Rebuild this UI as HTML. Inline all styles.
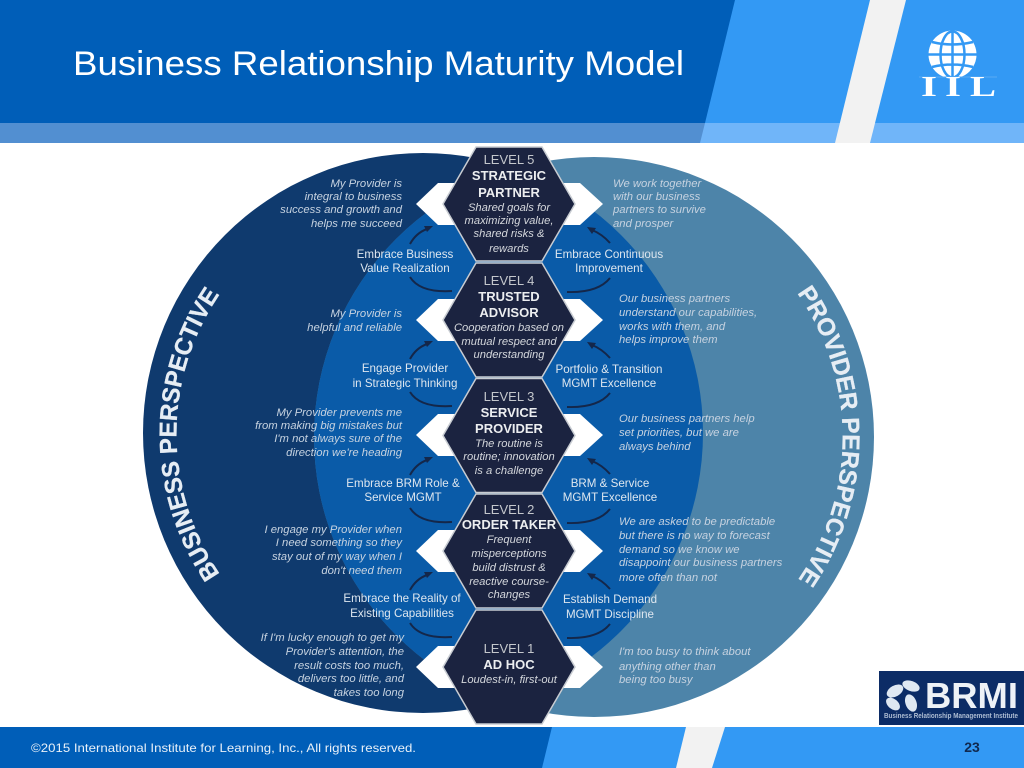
<!DOCTYPE html>
<html lang="en"><head><meta charset="utf-8"><title>Business Relationship Maturity Model</title>
<style>
html,body{margin:0;padding:0;background:#fff;width:1024px;height:768px;overflow:hidden}
svg{display:block}
text{font-family:"Liberation Sans",sans-serif}
.t{font-style:italic;font-size:11.3px;fill:#c6d2e0}
.l{text-anchor:end}
.lab{font-size:11.6px;fill:#dde6ef;text-anchor:middle}
.h{font-size:13px;text-anchor:middle;fill:#c4c7cc}
.b{font-size:13px;font-weight:bold;text-anchor:middle;fill:#eceef0}
.i{font-size:11.2px;font-style:italic;text-anchor:middle;fill:#d4d7dc}
</style></head><body>
<svg width="1024" height="768" viewBox="0 0 1024 768" xmlns="http://www.w3.org/2000/svg">
<defs>
<clipPath id="lc"><circle cx="423" cy="433" r="280"/></clipPath>
<filter id="soft" x="-5%" y="-5%" width="110%" height="110%"><feGaussianBlur stdDeviation="0.3"/></filter>
<polygon id="hex" points="443,0 476,-57 542,-57 575,0 542,57 476,57" fill="#1b2340" stroke="#c8ccd2" stroke-width="1.500"/>
<polygon id="wh" points="416,0 438,-21 580,-21 603,0 580,21 438,21" fill="#fff"/>
<g id="arcs" fill="none" stroke="#14274a" stroke-width="2">
<path d="M410 244Q416 233 427 229"/><path d="M410 277Q420 293 452 291"/>
<path d="M610 243Q602 234 592 230"/><path d="M610 278Q598 293 567 292"/>
<polygon points="433,226 424,226 427,232" fill="#14274a" stroke="none"/>
<polygon points="587,227 596,228 592,234" fill="#14274a" stroke="none"/>
</g>
<path id="pl" d="M220 574A247 247 0 0 1 220 294"/>
<path id="pr" d="M797 293A250 250 0 0 1 797 581"/>
</defs>

<!-- header -->
<rect x="0" y="0" width="1024" height="123" fill="#3399f4"/>
<polygon points="0,0 735,0 705,123 0,123" fill="#005eb8"/>
<rect x="0" y="123" width="1024" height="20" fill="#70b5f9"/>
<polygon points="0,123 705,123 700,143 0,143" fill="#528fd1"/>
<polygon points="870,0 906,0 870,143 835,143" fill="#f2f2f2"/>
<text x="73" y="75" font-size="34" fill="#fff" textLength="611" lengthAdjust="spacingAndGlyphs">Business Relationship Maturity Model</text>

<!-- logo -->
<g>
<circle cx="952.5" cy="54.5" r="24" fill="#fff"/>
<g fill="none" stroke="#3399f4" stroke-width="2.500">
<ellipse cx="952.5" cy="54.5" rx="12" ry="23"/>
<path d="M952.5 30V79M928 54.5H977M932 42Q952 47 973 42M932 67Q952 62 973 67"/>
</g>
<rect x="919" y="76.500" width="78" height="1" fill="#5aaaf5"/>
<g font-size="29" font-weight="bold" fill="#fff">
<text x="921" y="96" textLength="16" lengthAdjust="spacingAndGlyphs" style="font-family:'Liberation Serif',serif">I</text>
<text x="945" y="96" textLength="16" lengthAdjust="spacingAndGlyphs" style="font-family:'Liberation Serif',serif">I</text>
<text x="970" y="96" textLength="26" lengthAdjust="spacingAndGlyphs" style="font-family:'Liberation Serif',serif">L</text>
</g>
</g>

<!-- circles -->
<circle cx="423" cy="433" r="280" fill="#0f3a6e"/>
<circle cx="594" cy="437" r="280" fill="#4d84a9"/>
<circle cx="594" cy="437" r="280" fill="#0a5ba8" clip-path="url(#lc)"/>

<!-- white tabs -->
<use href="#wh" y="204"/><use href="#wh" y="320"/><use href="#wh" y="435"/><use href="#wh" y="551"/><use href="#wh" y="667"/>

<!-- hexagons -->
<use href="#hex" y="204"/><use href="#hex" y="320"/><use href="#hex" y="435.500"/><use href="#hex" y="551"/><use href="#hex" y="667"/>

<use href="#arcs"/><use href="#arcs" y="115"/><use href="#arcs" y="231"/><use href="#arcs" y="346"/>

<g filter="url(#soft)">
<!-- curved titles -->
<text font-size="24.500" font-weight="bold" fill="#e6edf4" stroke="#e6edf4" stroke-width="0.300"><textPath href="#pl" textLength="297" lengthAdjust="spacingAndGlyphs">BUSINESS PERSPECTIVE</textPath></text>
<text font-size="24.500" font-weight="bold" fill="#e6edf4" stroke="#e6edf4" stroke-width="0.300"><textPath href="#pr" textLength="305" lengthAdjust="spacingAndGlyphs">PROVIDER PERSPECTIVE</textPath></text>

<!-- left statements -->
<text class="t l" x="402" y="187">My Provider is</text>
<text class="t l" x="402" y="200">integral to business</text>
<text class="t l" x="402" y="213">success and growth and</text>
<text class="t l" x="402" y="227">helps me succeed</text>
<text class="t l" x="402" y="317">My Provider is</text>
<text class="t l" x="402" y="331">helpful and reliable</text>
<text class="t l" x="402" y="416">My Provider prevents me</text>
<text class="t l" x="402" y="429">from making big mistakes but</text>
<text class="t l" x="402" y="442">I'm not always sure of the</text>
<text class="t l" x="402" y="456">direction we're heading</text>
<text class="t l" x="402" y="533">I engage my Provider when</text>
<text class="t l" x="402" y="546">I need something so they</text>
<text class="t l" x="402" y="560">stay out of my way when I</text>
<text class="t l" x="402" y="574">don't need them</text>
<text class="t l" x="404" y="641">If I'm lucky enough to get my</text>
<text class="t l" x="404" y="655">Provider's attention, the</text>
<text class="t l" x="404" y="669">result costs too much,</text>
<text class="t l" x="404" y="682">delivers too little, and</text>
<text class="t l" x="404" y="696">takes too long</text>

<!-- left labels -->
<text class="lab" x="405" y="258">Embrace Business</text>
<text class="lab" x="405" y="272">Value Realization</text>
<text class="lab" x="405" y="372">Engage Provider</text>
<text class="lab" x="405" y="387">in Strategic Thinking</text>
<text class="lab" x="403" y="487">Embrace BRM Role &amp;</text>
<text class="lab" x="403" y="501">Service MGMT</text>
<text class="lab" x="402" y="602">Embrace the Reality of</text>
<text class="lab" x="402" y="617">Existing Capabilities</text>

<!-- right statements -->
<text class="t" x="613" y="187">We work together</text>
<text class="t" x="613" y="200">with our business</text>
<text class="t" x="613" y="213">partners to survive</text>
<text class="t" x="613" y="227">and prosper</text>
<text class="t" x="619" y="302">Our business partners</text>
<text class="t" x="619" y="316">understand our capabilities,</text>
<text class="t" x="619" y="330">works with them, and</text>
<text class="t" x="619" y="343">helps improve them</text>
<text class="t" x="619" y="422">Our business partners help</text>
<text class="t" x="619" y="436">set priorities, but we are</text>
<text class="t" x="619" y="450">always behind</text>
<text class="t" x="619" y="525">We are asked to be predictable</text>
<text class="t" x="619" y="539">but there is no way to forecast</text>
<text class="t" x="619" y="553">demand so we know we</text>
<text class="t" x="619" y="566">disappoint our business partners</text>
<text class="t" x="619" y="581">more often than not</text>
<text class="t" x="619" y="655">I'm too busy to think about</text>
<text class="t" x="619" y="670">anything other than</text>
<text class="t" x="619" y="683">being too busy</text>

<!-- right labels -->
<text class="lab" x="609" y="258">Embrace Continuous</text>
<text class="lab" x="609" y="272">Improvement</text>
<text class="lab" x="609" y="373">Portfolio &amp; Transition</text>
<text class="lab" x="609" y="387">MGMT Excellence</text>
<text class="lab" x="610" y="487">BRM &amp; Service</text>
<text class="lab" x="610" y="501">MGMT Excellence</text>
<text class="lab" x="610" y="603">Establish Demand</text>
<text class="lab" x="610" y="618">MGMT Discipline</text>

<!-- hex text -->
<text class="h" x="509" y="164">LEVEL 5</text>
<text class="b" x="509" y="180">STRATEGIC</text>
<text class="b" x="509" y="197">PARTNER</text>
<text class="i" x="509" y="211">Shared goals for</text>
<text class="i" x="509" y="224">maximizing value,</text>
<text class="i" x="509" y="237">shared risks &amp;</text>
<text class="i" x="509" y="252">rewards</text>

<text class="h" x="509" y="285">LEVEL 4</text>
<text class="b" x="509" y="301">TRUSTED</text>
<text class="b" x="509" y="317">ADVISOR</text>
<text class="i" x="509" y="331">Cooperation based on</text>
<text class="i" x="509" y="345">mutual respect and</text>
<text class="i" x="509" y="358">understanding</text>

<text class="h" x="509" y="401">LEVEL 3</text>
<text class="b" x="509" y="417">SERVICE</text>
<text class="b" x="509" y="433">PROVIDER</text>
<text class="i" x="509" y="447">The routine is</text>
<text class="i" x="509" y="460">routine; innovation</text>
<text class="i" x="509" y="474">is a challenge</text>

<text class="h" x="509" y="514">LEVEL 2</text>
<text class="b" x="509" y="529">ORDER TAKER</text>
<text class="i" x="509" y="543">Frequent</text>
<text class="i" x="509" y="557">misperceptions</text>
<text class="i" x="509" y="571">build distrust &amp;</text>
<text class="i" x="509" y="585">reactive course-</text>
<text class="i" x="509" y="598">changes</text>

<text class="h" x="509" y="653">LEVEL 1</text>
<text class="b" x="509" y="669">AD HOC</text>
<text class="i" x="509" y="683">Loudest-in, first-out</text>
</g>

<!-- BRMI logo -->
<rect x="879" y="671" width="145" height="54" fill="#0c2c66"/>
<g fill="#dfe8f2">
<ellipse cx="895" cy="691" rx="9" ry="5.500" transform="rotate(-30 895 691)"/>
<ellipse cx="911" cy="686" rx="9" ry="5" transform="rotate(20 911 686)"/>
<ellipse cx="911" cy="703" rx="5.500" ry="9" transform="rotate(-20 911 703)"/>
<ellipse cx="893" cy="704" rx="5" ry="8" transform="rotate(-50 893 704)"/>
</g>
<text x="925" y="708" font-size="36" font-weight="bold" fill="#eef2f7" textLength="93" lengthAdjust="spacingAndGlyphs">BRMI</text>
<text x="884" y="718" font-size="7.500" font-weight="bold" fill="#aebdd3" textLength="134" lengthAdjust="spacingAndGlyphs">Business Relationship Management Institute</text>

<!-- footer -->
<rect x="0" y="727" width="1024" height="41" fill="#3399f4"/>
<polygon points="0,727 552,727 542,768 0,768" fill="#005eb8"/>
<polygon points="686,727 725,727 712,768 676,768" fill="#f2f2f2"/>
<text x="31" y="752" font-size="12" fill="#e8f0f8" textLength="385" lengthAdjust="spacingAndGlyphs">©2015 International Institute for Learning, Inc., All rights reserved.</text>
<text x="972" y="752" font-size="14" font-weight="bold" fill="#10294f" text-anchor="middle">23</text>
</svg>
</body></html>
